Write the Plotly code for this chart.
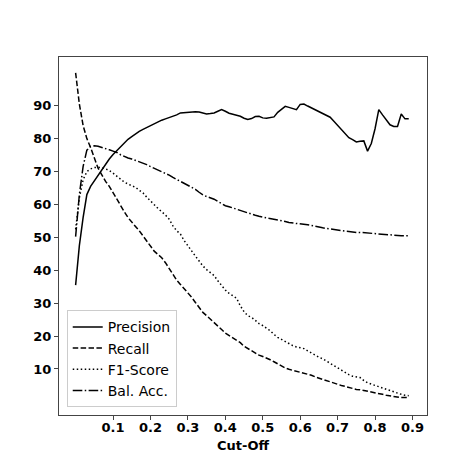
import plotly.graph_objects as go

# cut-off thresholds 0.00 .. 0.89
cutoff = [round(i * 0.01, 2) for i in range(90)]

precision = [
    35.5, 47.5, 56.0, 63.0, 65.5, 67.2, 68.8, 70.5, 72.2, 73.8,
    75.2, 76.3, 77.7, 78.8, 79.8, 80.6, 81.5, 82.2, 82.8, 83.4,
    84.0, 84.6, 85.1, 85.6, 86.0, 86.4, 86.7, 87.2, 87.8, 87.9,
    88.1, 88.3, 88.2, 88.1, 87.8, 87.5, 87.6, 87.8, 88.3, 88.8,
    88.3, 87.7, 87.4, 87.1, 86.8, 86.2, 85.8, 86.1, 86.7, 86.8,
    86.3, 86.2, 86.3, 86.6, 88.0, 88.8, 89.8, 89.5, 89.1, 88.8,
    90.4, 90.5, 89.9, 89.3, 88.7, 88.2, 87.6, 87.1, 86.5, 85.3,
    84.0, 82.8, 81.4, 80.3, 79.7, 79.0, 79.2, 79.3, 76.2, 78.5,
    83.0, 88.8, 87.2, 85.8, 84.2, 83.7, 83.7, 87.5, 86.0, 86.0,
]

recall = [
    100.0, 90.5, 84.0, 80.0, 77.3, 74.0, 71.0, 69.0, 67.0, 65.5,
    63.5, 61.5, 59.5, 57.8, 56.0, 54.5, 53.3, 52.0, 50.5, 48.8,
    47.3, 45.8, 44.8, 43.8, 42.3, 40.5, 38.7, 37.0, 35.7, 34.5,
    33.2, 31.8, 30.2, 28.6, 27.2, 26.2, 25.2, 24.3, 23.2, 22.0,
    20.9, 20.2, 19.6, 18.8, 18.0, 16.9, 16.2, 15.6, 15.0, 14.2,
    13.8, 13.4, 12.8, 12.2, 11.5, 10.8, 10.3, 9.9, 9.6, 9.3,
    9.0, 8.8, 8.6, 8.1, 7.6, 7.2, 6.9, 6.6, 6.2, 5.7,
    5.3, 5.0, 4.7, 4.4, 4.0, 3.8, 3.7, 3.5, 3.2, 2.9,
    2.7, 2.5, 2.3, 2.0, 1.8, 1.6, 1.5, 1.3, 1.3, 1.3,
]

f1_score = [
    52.4, 62.0, 67.5, 70.0, 70.8, 71.2, 71.3, 71.2, 70.8, 70.3,
    69.5, 68.5, 67.7, 66.8, 66.2, 65.7, 65.2, 64.3, 63.5, 62.2,
    61.0, 60.0, 58.8, 57.8, 56.8, 55.5, 53.5, 52.0, 51.0, 49.0,
    47.3, 46.0, 44.3, 42.8, 41.3, 40.2, 39.3, 38.4, 36.8, 35.4,
    34.0, 33.0, 32.2, 31.5, 29.2, 27.4, 26.2, 25.7, 24.8, 23.8,
    23.2, 22.5, 21.6, 20.5, 19.6, 19.0, 18.3, 17.6, 17.1, 16.7,
    16.5, 16.2, 15.5, 14.8, 14.1, 13.6, 13.1, 12.4, 11.8, 11.2,
    10.5, 9.8, 9.0, 8.3, 7.8, 7.6, 7.4, 6.5, 5.8, 5.4,
    5.0, 4.5, 4.2, 3.7, 3.4, 2.9, 2.7, 2.3, 2.0, 1.9,
]

bal_acc = [
    50.2, 63.0, 71.5, 76.5, 77.6, 77.8, 77.7, 77.4, 77.0, 76.6,
    76.2, 75.8, 75.1, 74.5, 74.1, 73.8, 73.4, 73.0, 72.7, 72.1,
    71.5, 71.0, 70.6, 70.1, 69.5, 68.9, 68.2, 67.6, 67.0, 66.3,
    65.8, 65.3, 64.6, 63.7, 62.9, 62.4, 62.1, 61.6, 60.9, 60.2,
    59.6, 59.3, 58.9, 58.6, 58.3, 57.9, 57.4, 57.0, 56.7, 56.4,
    56.2, 55.9, 55.7, 55.5, 55.2, 55.0, 54.8, 54.5, 54.4, 54.2,
    54.1, 54.0, 53.8, 53.6, 53.3, 53.1, 52.9, 52.7, 52.5, 52.3,
    52.1, 52.0, 51.9, 51.8, 51.6, 51.5, 51.5, 51.4, 51.2, 51.1,
    51.0, 50.9, 50.8, 50.8, 50.7, 50.6, 50.5, 50.5, 50.5, 50.5,
]

x_ticks = [0.1, 0.2, 0.3, 0.4, 0.5, 0.6, 0.7, 0.8, 0.9]
y_ticks = [10, 20, 30, 40, 50, 60, 70, 80, 90]

series = [
    ("Precision", precision, "solid"),
    ("Recall", recall, "5.5px,2.4px"),
    ("F1-Score", f1_score, "1.5px,2.5px"),
    ("Bal. Acc.", bal_acc, "9.6px,2.4px,1.5px,2.4px"),
]

fig = go.Figure()
for name, vals, dash in series:
    fig.add_trace(go.Scatter(
        x=cutoff, y=vals, mode="lines", name=name,
        line=dict(color="black", width=1.5, dash=dash),
    ))

axis_common = dict(
    showgrid=False, zeroline=False, showline=True, mirror=True,
    linecolor="#444", linewidth=1,
    ticks="outside", ticklen=4, tickcolor="#444",
    tickfont=dict(family="DejaVu Sans", size=13, color="black", weight="bold"),
)

# page has an 8px body margin, so margins are shifted by that
fig.update_layout(
    width=474, height=474,
    paper_bgcolor="white", plot_bgcolor="white",
    margin=dict(l=51, r=55, t=49, b=67),
    xaxis=dict(
        range=[-0.0444, 0.9388], tickvals=x_ticks,
        ticktext=[f"{t:.1f}" for t in x_ticks],
        ticklabelstandoff=-4,
        **axis_common,
    ),
    yaxis=dict(range=[-3.98, 104.8], tickvals=y_ticks, **axis_common),
    legend=dict(
        x=0.021, y=0.0215, xanchor="left", yanchor="bottom",
        bgcolor="white", bordercolor="#ccc", borderwidth=1,
        font=dict(family="DejaVu Sans", size=14, color="black"),
        itemwidth=30, tracegroupgap=0,
    ),
    showlegend=True,
)

fig.add_annotation(
    text="Cut-Off", xref="paper", yref="paper", x=0.5, y=-0.084,
    xanchor="center", yanchor="middle", showarrow=False,
    font=dict(family="DejaVu Sans", size=13, color="black", weight="bold"),
)

fig.write_html("out.html")
